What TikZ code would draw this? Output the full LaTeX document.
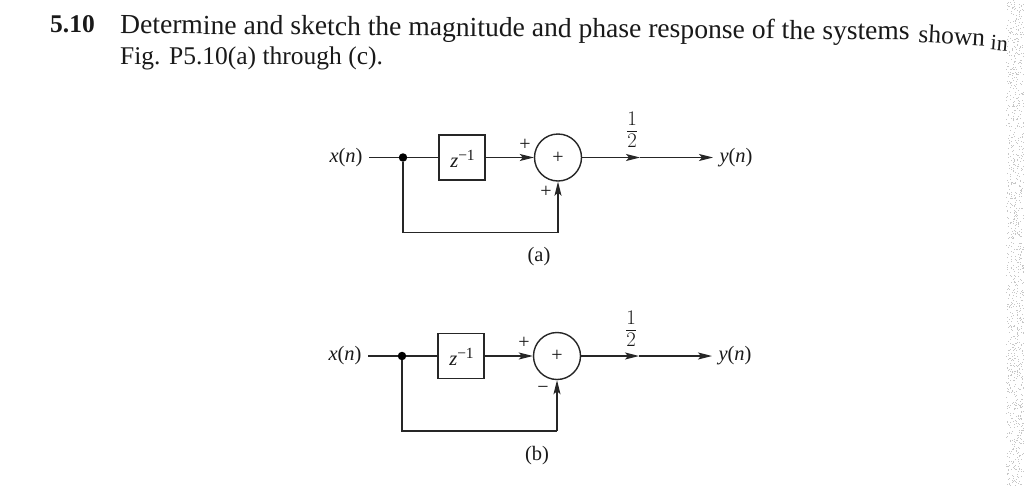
\documentclass[tikz,border=0pt]{standalone}
\usepackage{fontspec}
\setmainfont{Liberation Serif}
\usetikzlibrary{arrows.meta}
\tikzset{
  x=1pt,y=-1pt,
  wire/.style={line width=1.25pt,black!85},
  arr/.style={-{Stealth[length=14pt,width=7pt,inset=3pt]}},
  delaybox/.style={draw=black!85,line width=1.25pt,minimum width=46pt,minimum height=45pt,inner sep=0pt},
  sumnode/.style={circle,draw=black!85,line width=1.4pt,minimum size=47pt,inner sep=0pt},
  jct/.style={circle,fill=black,minimum size=8.5pt,inner sep=0pt},
  lbl/.style={font=\fontsize{20.5}{24}\selectfont,black!90,inner sep=0pt},
  sgn/.style={font=\fontsize{20}{24}\selectfont,black!90,inner sep=0pt},
  body/.style={font=\fontsize{25.5}{30}\selectfont,anchor=base west,inner sep=0pt,black!90},
}
\newcommand{\mydiagram}[9]{% name, ox, oy, sign dx, sign dy, sign, caption dx, caption dy, caption
  \node[lbl] (#1x) at (#2-57,#3) {\textit{x}(\textit{n})};
  \coordinate (#1s) at (#2-34,#3);
  \node[jct] (#1d) at (#2,#3) {};
  \node[delaybox] (#1b) at (#2+59,#3) {};
  \node[lbl] at (#2+59.5,#3+1) {\textit{z}\raisebox{7pt}{\fontsize{15.5}{16}\selectfont −1}};
  \node[sumnode] (#1c) at (#2+155,#3) {};
  \node[sgn] at (#2+155,#3) {+};
  \coordinate (#1o) at (#2+310,#3);
  \coordinate (#1m) at (#2+237,#3);
  \node[lbl] (#1y) at (#2+333,#3) {\textit{y}(\textit{n})};
  \coordinate (#1f) at (#2,#3+75);
  \coordinate (#1g) at (#2+155,#3+75);
  \draw[wire] (#1s) -- (#1d) -- (#1b);
  \draw[wire,arr] (#1b) -- (#1c);
  \draw[wire,arr] (#1c) -- (#1m);
  \draw[wire,arr] (#1m) -- (#1o);
  \draw[wire] (#1d) -- (#1f) -- (#1g);
  \draw[wire,arr] (#1g) -- (#1c);
  \node[sgn] at (#2+122,#3-13) {+};
  \node[sgn] at (#2+#4,#3+#5) {#6};
  \node[lbl] (#1h) at (#2+229,#3-26) {$\frac{\displaystyle\mathstrut\smash{1}}{\displaystyle\mathstrut\smash{2}}$};
  \node[lbl] at (#2+#7,#3+#8) {#9};
}
\begin{document}
\begin{tikzpicture}
\useasboundingbox (0,0) rectangle (1024,485);
\fill[white] (0,0) rectangle (1024,485);
\pgfmathsetseed{7}
\foreach \i in {1,...,1100}{
  \pgfmathsetmacro{\px}{1024-rnd*18}
  \pgfmathsetmacro{\py}{rnd*485}
  \fill[black!22] (\px,\py) rectangle ++(1,1);
}
\node[body,font=\bfseries\fontsize{25.5}{30}\selectfont] (num) at (50,32) {5.10};
\node[body,rotate=-0.49,font=\fontsize{27.6}{30}\selectfont] (l1) at (120,33.3) {Determine and sketch the magnitude and phase response of the systems};
\node[body,rotate=-3.3] (l1b) at (918,42) {shown};
\node[body,rotate=-5,font=\fontsize{22}{26}\selectfont] (l1c) at (990,49.5) {in};
\node[body] (l2) at (120,64) {Fig. P5.10(a) through (c).};
\mydiagram{a}{403}{157.5}{143}{34.5}{+}{136}{99.5}{(a)}
\mydiagram{b}{402}{356}{141}{34}{−}{135}{100}{(b)}
\end{tikzpicture}
\end{document}
